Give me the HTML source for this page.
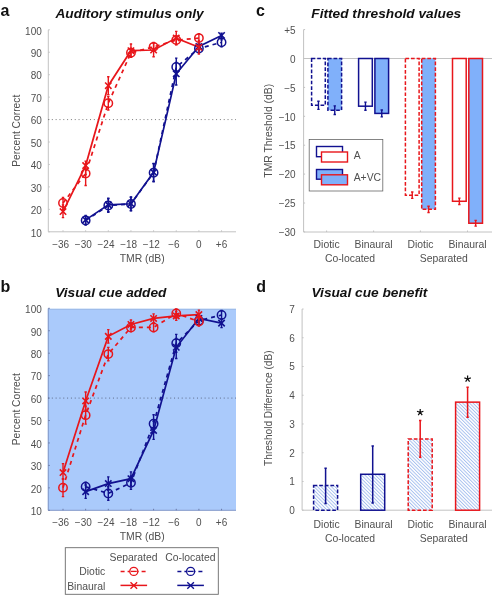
<!DOCTYPE html>
<html><head><meta charset="utf-8"><style>
html,body{margin:0;padding:0;background:#fff;width:492px;height:595px;overflow:hidden}
svg{display:block;font-family:"Liberation Sans",sans-serif;will-change:transform}
</style></head><body>
<svg width="492" height="595" viewBox="0 0 492 595" font-family="Liberation Sans, sans-serif">
<rect width="492" height="595" fill="#fff"/>
<text x="0.5" y="15.5" font-size="16" font-weight="bold" fill="#111">a</text>
<text x="129.6" y="18" text-anchor="middle" font-size="13.7" font-weight="bold" font-style="italic" fill="#111">Auditory stimulus only</text>
<text x="0.5" y="292" font-size="16" font-weight="bold" fill="#111">b</text>
<text x="110.8" y="296.5" text-anchor="middle" font-size="13.7" font-weight="bold" font-style="italic" fill="#111">Visual cue added</text>
<text x="256" y="16" font-size="16" font-weight="bold" fill="#111">c</text>
<text x="386.2" y="18" text-anchor="middle" font-size="13.7" font-weight="bold" font-style="italic" fill="#111">Fitted threshold values</text>
<text x="256.2" y="292" font-size="16" font-weight="bold" fill="#111">d</text>
<text x="369.4" y="296.5" text-anchor="middle" font-size="13.7" font-weight="bold" font-style="italic" fill="#111">Visual cue benefit</text>
<path d="M48.3 29.80V231.80H236" fill="none" stroke="#c2c2c2" stroke-width="1"/>
<path d="M48.3 231.80h1.5" stroke="#c2c2c2" stroke-width="1"/>
<text x="41.80" y="236.60" text-anchor="end" font-size="10" fill="#505050">10</text>
<path d="M48.3 209.35h1.5" stroke="#c2c2c2" stroke-width="1"/>
<text x="41.80" y="214.15" text-anchor="end" font-size="10" fill="#505050">20</text>
<path d="M48.3 186.91h1.5" stroke="#c2c2c2" stroke-width="1"/>
<text x="41.80" y="191.71" text-anchor="end" font-size="10" fill="#505050">30</text>
<path d="M48.3 164.46h1.5" stroke="#c2c2c2" stroke-width="1"/>
<text x="41.80" y="169.26" text-anchor="end" font-size="10" fill="#505050">40</text>
<path d="M48.3 142.02h1.5" stroke="#c2c2c2" stroke-width="1"/>
<text x="41.80" y="146.82" text-anchor="end" font-size="10" fill="#505050">50</text>
<path d="M48.3 119.58h1.5" stroke="#c2c2c2" stroke-width="1"/>
<text x="41.80" y="124.38" text-anchor="end" font-size="10" fill="#505050">60</text>
<path d="M48.3 97.13h1.5" stroke="#c2c2c2" stroke-width="1"/>
<text x="41.80" y="101.93" text-anchor="end" font-size="10" fill="#505050">70</text>
<path d="M48.3 74.69h1.5" stroke="#c2c2c2" stroke-width="1"/>
<text x="41.80" y="79.49" text-anchor="end" font-size="10" fill="#505050">80</text>
<path d="M48.3 52.24h1.5" stroke="#c2c2c2" stroke-width="1"/>
<text x="41.80" y="57.04" text-anchor="end" font-size="10" fill="#505050">90</text>
<path d="M48.3 29.80h1.5" stroke="#c2c2c2" stroke-width="1"/>
<text x="41.80" y="34.60" text-anchor="end" font-size="10" fill="#505050">100</text>
<path d="M63.00 231.80v-1.5" stroke="#c2c2c2" stroke-width="1"/>
<text x="60.70" y="247.80" text-anchor="middle" font-size="10" fill="#505050">−36</text>
<path d="M85.65 231.80v-1.5" stroke="#c2c2c2" stroke-width="1"/>
<text x="83.35" y="247.80" text-anchor="middle" font-size="10" fill="#505050">−30</text>
<path d="M108.30 231.80v-1.5" stroke="#c2c2c2" stroke-width="1"/>
<text x="106.00" y="247.80" text-anchor="middle" font-size="10" fill="#505050">−24</text>
<path d="M130.95 231.80v-1.5" stroke="#c2c2c2" stroke-width="1"/>
<text x="128.65" y="247.80" text-anchor="middle" font-size="10" fill="#505050">−18</text>
<path d="M153.60 231.80v-1.5" stroke="#c2c2c2" stroke-width="1"/>
<text x="151.30" y="247.80" text-anchor="middle" font-size="10" fill="#505050">−12</text>
<path d="M176.25 231.80v-1.5" stroke="#c2c2c2" stroke-width="1"/>
<text x="173.95" y="247.80" text-anchor="middle" font-size="10" fill="#505050">−6</text>
<path d="M198.90 231.80v-1.5" stroke="#c2c2c2" stroke-width="1"/>
<text x="198.90" y="247.80" text-anchor="middle" font-size="10" fill="#505050">0</text>
<path d="M221.55 231.80v-1.5" stroke="#c2c2c2" stroke-width="1"/>
<text x="221.55" y="247.80" text-anchor="middle" font-size="10" fill="#505050">+6</text>
<text x="142.20" y="261.60" text-anchor="middle" font-size="10.4" fill="#505050">TMR (dB)</text>
<path d="M48.0 119.58H236" stroke="#7a7a7a" stroke-width="1" stroke-dasharray="1 2.82"/>
<text transform="translate(20.2 130.70) rotate(-90)" text-anchor="middle" font-size="10.3" fill="#505050">Percent Correct</text>
<path d="M85.65 220.57 L108.30 205.54 L130.95 203.97 L153.60 172.77 L176.25 67.06 L198.90 48.43 L221.55 42.37" fill="none" stroke="#111190" stroke-width="1.7" stroke-dasharray="4 4"/>
<path d="M85.65 219.90 L108.30 204.86 L130.95 203.74 L153.60 172.32 L176.25 73.79 L198.90 46.41 L221.55 35.41" fill="none" stroke="#111190" stroke-width="1.7"/>
<path d="M63.00 203.07 L85.65 173.44 L108.30 103.19 L130.95 52.69 L153.60 46.86 L176.25 40.12 L198.90 38.10" fill="none" stroke="#e8161b" stroke-width="1.7" stroke-dasharray="4 4"/>
<path d="M63.00 211.60 L85.65 165.59 L108.30 85.69 L130.95 50.67 L153.60 50.00 L176.25 38.10 L198.90 47.31" fill="none" stroke="#e8161b" stroke-width="1.7"/>
<path d="M85.65 216.09V225.06M84.45 216.09h2.4M84.45 225.06h2.4" stroke="#111190" stroke-width="1.4" fill="none"/>
<circle cx="85.65" cy="220.57" r="4.2" fill="none" stroke="#111190" stroke-width="1.5"/>
<path d="M108.30 198.80V212.27M107.10 198.80h2.4M107.10 212.27h2.4" stroke="#111190" stroke-width="1.4" fill="none"/>
<circle cx="108.30" cy="205.54" r="4.2" fill="none" stroke="#111190" stroke-width="1.5"/>
<path d="M130.95 197.23V210.70M129.75 197.23h2.4M129.75 210.70h2.4" stroke="#111190" stroke-width="1.4" fill="none"/>
<circle cx="130.95" cy="203.97" r="4.2" fill="none" stroke="#111190" stroke-width="1.5"/>
<path d="M153.60 163.79V181.75M152.40 163.79h2.4M152.40 181.75h2.4" stroke="#111190" stroke-width="1.4" fill="none"/>
<circle cx="153.60" cy="172.77" r="4.2" fill="none" stroke="#111190" stroke-width="1.5"/>
<path d="M176.25 58.08V76.03M175.05 58.08h2.4M175.05 76.03h2.4" stroke="#111190" stroke-width="1.4" fill="none"/>
<circle cx="176.25" cy="67.06" r="4.2" fill="none" stroke="#111190" stroke-width="1.5"/>
<path d="M198.90 43.94V52.92M197.70 43.94h2.4M197.70 52.92h2.4" stroke="#111190" stroke-width="1.4" fill="none"/>
<circle cx="198.90" cy="48.43" r="4.2" fill="none" stroke="#111190" stroke-width="1.5"/>
<path d="M221.55 37.88V46.86M220.35 37.88h2.4M220.35 46.86h2.4" stroke="#111190" stroke-width="1.4" fill="none"/>
<circle cx="221.55" cy="42.37" r="4.2" fill="none" stroke="#111190" stroke-width="1.5"/>
<path d="M85.65 215.41V224.39M84.45 215.41h2.4M84.45 224.39h2.4" stroke="#111190" stroke-width="1.4" fill="none"/>
<path d="M82.45 216.70L88.85 223.10M82.45 223.10L88.85 216.70" stroke="#111190" stroke-width="1.6"/>
<path d="M108.30 198.13V211.60M107.10 198.13h2.4M107.10 211.60h2.4" stroke="#111190" stroke-width="1.4" fill="none"/>
<path d="M105.10 201.66L111.50 208.06M105.10 208.06L111.50 201.66" stroke="#111190" stroke-width="1.6"/>
<path d="M130.95 197.01V210.47M129.75 197.01h2.4M129.75 210.47h2.4" stroke="#111190" stroke-width="1.4" fill="none"/>
<path d="M127.75 200.54L134.15 206.94M127.75 206.94L134.15 200.54" stroke="#111190" stroke-width="1.6"/>
<path d="M153.60 163.34V181.30M152.40 163.34h2.4M152.40 181.30h2.4" stroke="#111190" stroke-width="1.4" fill="none"/>
<path d="M150.40 169.12L156.80 175.52M150.40 175.52L156.80 169.12" stroke="#111190" stroke-width="1.6"/>
<path d="M176.25 62.57V85.01M175.05 62.57h2.4M175.05 85.01h2.4" stroke="#111190" stroke-width="1.4" fill="none"/>
<path d="M173.05 70.59L179.45 76.99M173.05 76.99L179.45 70.59" stroke="#111190" stroke-width="1.6"/>
<path d="M198.90 41.92V50.90M197.70 41.92h2.4M197.70 50.90h2.4" stroke="#111190" stroke-width="1.4" fill="none"/>
<path d="M195.70 43.21L202.10 49.61M195.70 49.61L202.10 43.21" stroke="#111190" stroke-width="1.6"/>
<path d="M221.55 33.17V39.90M220.35 33.17h2.4M220.35 39.90h2.4" stroke="#111190" stroke-width="1.4" fill="none"/>
<path d="M218.35 32.21L224.75 38.61M218.35 38.61L224.75 32.21" stroke="#111190" stroke-width="1.6"/>
<path d="M63.00 197.46V209.80M61.80 197.46h2.4M61.80 209.80h2.4" stroke="#e8161b" stroke-width="1.4" fill="none"/>
<circle cx="63.00" cy="203.07" r="4.2" fill="none" stroke="#e8161b" stroke-width="1.5"/>
<path d="M85.65 164.46V185.56M84.45 164.46h2.4M84.45 185.56h2.4" stroke="#e8161b" stroke-width="1.4" fill="none"/>
<circle cx="85.65" cy="173.44" r="4.2" fill="none" stroke="#e8161b" stroke-width="1.5"/>
<path d="M108.30 96.46V109.93M107.10 96.46h2.4M107.10 109.93h2.4" stroke="#e8161b" stroke-width="1.4" fill="none"/>
<circle cx="108.30" cy="103.19" r="4.2" fill="none" stroke="#e8161b" stroke-width="1.5"/>
<path d="M130.95 48.20V57.18M129.75 48.20h2.4M129.75 57.18h2.4" stroke="#e8161b" stroke-width="1.4" fill="none"/>
<circle cx="130.95" cy="52.69" r="4.2" fill="none" stroke="#e8161b" stroke-width="1.5"/>
<path d="M153.60 42.37V51.35M152.40 42.37h2.4M152.40 51.35h2.4" stroke="#e8161b" stroke-width="1.4" fill="none"/>
<circle cx="153.60" cy="46.86" r="4.2" fill="none" stroke="#e8161b" stroke-width="1.5"/>
<path d="M176.25 35.64V44.61M175.05 35.64h2.4M175.05 44.61h2.4" stroke="#e8161b" stroke-width="1.4" fill="none"/>
<circle cx="176.25" cy="40.12" r="4.2" fill="none" stroke="#e8161b" stroke-width="1.5"/>
<path d="M198.90 33.62V42.59M197.70 33.62h2.4M197.70 42.59h2.4" stroke="#e8161b" stroke-width="1.4" fill="none"/>
<circle cx="198.90" cy="38.10" r="4.2" fill="none" stroke="#e8161b" stroke-width="1.5"/>
<path d="M63.00 204.86V217.66M61.80 204.86h2.4M61.80 217.66h2.4" stroke="#e8161b" stroke-width="1.4" fill="none"/>
<path d="M59.80 208.40L66.20 214.80M59.80 214.80L66.20 208.40" stroke="#e8161b" stroke-width="1.6"/>
<path d="M85.65 161.10V174.56M84.45 161.10h2.4M84.45 174.56h2.4" stroke="#e8161b" stroke-width="1.4" fill="none"/>
<path d="M82.45 162.39L88.85 168.79M82.45 168.79L88.85 162.39" stroke="#e8161b" stroke-width="1.6"/>
<path d="M108.30 76.71V94.66M107.10 76.71h2.4M107.10 94.66h2.4" stroke="#e8161b" stroke-width="1.4" fill="none"/>
<path d="M105.10 82.49L111.50 88.89M105.10 88.89L111.50 82.49" stroke="#e8161b" stroke-width="1.6"/>
<path d="M130.95 43.94V57.41M129.75 43.94h2.4M129.75 57.41h2.4" stroke="#e8161b" stroke-width="1.4" fill="none"/>
<path d="M127.75 47.47L134.15 53.87M127.75 53.87L134.15 47.47" stroke="#e8161b" stroke-width="1.6"/>
<path d="M153.60 43.27V56.73M152.40 43.27h2.4M152.40 56.73h2.4" stroke="#e8161b" stroke-width="1.4" fill="none"/>
<path d="M150.40 46.80L156.80 53.20M150.40 53.20L156.80 46.80" stroke="#e8161b" stroke-width="1.6"/>
<path d="M176.25 31.37V44.84M175.05 31.37h2.4M175.05 44.84h2.4" stroke="#e8161b" stroke-width="1.4" fill="none"/>
<path d="M173.05 34.90L179.45 41.30M173.05 41.30L179.45 34.90" stroke="#e8161b" stroke-width="1.6"/>
<path d="M198.90 40.57V54.04M197.70 40.57h2.4M197.70 54.04h2.4" stroke="#e8161b" stroke-width="1.4" fill="none"/>
<path d="M195.70 44.11L202.10 50.51M195.70 50.51L202.10 44.11" stroke="#e8161b" stroke-width="1.6"/>
<rect x="47.8" y="308.80" width="188.2" height="201.50" fill="#aacafb"/>
<path d="M48.3 309.30H236" stroke="#9cb8e6" stroke-width="1"/>
<path d="M48.3 308.30V510.30H236" fill="none" stroke="#8298c8" stroke-width="1"/>
<path d="M48.3 510.30h1.5" stroke="#6a7aa8" stroke-width="1"/>
<text x="41.80" y="515.10" text-anchor="end" font-size="10" fill="#505050">10</text>
<path d="M48.3 487.85h1.5" stroke="#6a7aa8" stroke-width="1"/>
<text x="41.80" y="492.65" text-anchor="end" font-size="10" fill="#505050">20</text>
<path d="M48.3 465.41h1.5" stroke="#6a7aa8" stroke-width="1"/>
<text x="41.80" y="470.21" text-anchor="end" font-size="10" fill="#505050">30</text>
<path d="M48.3 442.96h1.5" stroke="#6a7aa8" stroke-width="1"/>
<text x="41.80" y="447.76" text-anchor="end" font-size="10" fill="#505050">40</text>
<path d="M48.3 420.52h1.5" stroke="#6a7aa8" stroke-width="1"/>
<text x="41.80" y="425.32" text-anchor="end" font-size="10" fill="#505050">50</text>
<path d="M48.3 398.08h1.5" stroke="#6a7aa8" stroke-width="1"/>
<text x="41.80" y="402.88" text-anchor="end" font-size="10" fill="#505050">60</text>
<path d="M48.3 375.63h1.5" stroke="#6a7aa8" stroke-width="1"/>
<text x="41.80" y="380.43" text-anchor="end" font-size="10" fill="#505050">70</text>
<path d="M48.3 353.19h1.5" stroke="#6a7aa8" stroke-width="1"/>
<text x="41.80" y="357.99" text-anchor="end" font-size="10" fill="#505050">80</text>
<path d="M48.3 330.74h1.5" stroke="#6a7aa8" stroke-width="1"/>
<text x="41.80" y="335.54" text-anchor="end" font-size="10" fill="#505050">90</text>
<path d="M48.3 308.30h1.5" stroke="#6a7aa8" stroke-width="1"/>
<text x="41.80" y="313.10" text-anchor="end" font-size="10" fill="#505050">100</text>
<path d="M63.00 510.30v-1.5" stroke="#6a7aa8" stroke-width="1"/>
<text x="60.70" y="526.30" text-anchor="middle" font-size="10" fill="#505050">−36</text>
<path d="M85.65 510.30v-1.5" stroke="#6a7aa8" stroke-width="1"/>
<text x="83.35" y="526.30" text-anchor="middle" font-size="10" fill="#505050">−30</text>
<path d="M108.30 510.30v-1.5" stroke="#6a7aa8" stroke-width="1"/>
<text x="106.00" y="526.30" text-anchor="middle" font-size="10" fill="#505050">−24</text>
<path d="M130.95 510.30v-1.5" stroke="#6a7aa8" stroke-width="1"/>
<text x="128.65" y="526.30" text-anchor="middle" font-size="10" fill="#505050">−18</text>
<path d="M153.60 510.30v-1.5" stroke="#6a7aa8" stroke-width="1"/>
<text x="151.30" y="526.30" text-anchor="middle" font-size="10" fill="#505050">−12</text>
<path d="M176.25 510.30v-1.5" stroke="#6a7aa8" stroke-width="1"/>
<text x="173.95" y="526.30" text-anchor="middle" font-size="10" fill="#505050">−6</text>
<path d="M198.90 510.30v-1.5" stroke="#6a7aa8" stroke-width="1"/>
<text x="198.90" y="526.30" text-anchor="middle" font-size="10" fill="#505050">0</text>
<path d="M221.55 510.30v-1.5" stroke="#6a7aa8" stroke-width="1"/>
<text x="221.55" y="526.30" text-anchor="middle" font-size="10" fill="#505050">+6</text>
<text x="142.20" y="540.10" text-anchor="middle" font-size="10.4" fill="#505050">TMR (dB)</text>
<path d="M48.0 398.08H236" stroke="#5c6a88" stroke-width="1" stroke-dasharray="1 2.82"/>
<text transform="translate(20.2 409.20) rotate(-90)" text-anchor="middle" font-size="10.3" fill="#505050">Percent Correct</text>
<path d="M85.65 486.73 L108.30 493.46 L130.95 482.69 L153.60 423.66 L176.25 343.31 L198.90 320.64 L221.55 315.03" fill="none" stroke="#111190" stroke-width="1.7" stroke-dasharray="4 4"/>
<path d="M85.65 491.67 L108.30 483.59 L130.95 478.65 L153.60 430.40 L176.25 347.35 L198.90 318.40 L221.55 323.11" fill="none" stroke="#111190" stroke-width="1.7"/>
<path d="M63.00 487.63 L85.65 415.13 L108.30 354.09 L130.95 327.38 L153.60 327.38 L176.25 313.46 L198.90 321.54" fill="none" stroke="#e8161b" stroke-width="1.7" stroke-dasharray="4 4"/>
<path d="M63.00 472.59 L85.65 400.99 L108.30 336.36 L130.95 324.46 L153.60 318.40 L176.25 315.93 L198.90 314.58" fill="none" stroke="#e8161b" stroke-width="1.7"/>
<path d="M85.65 482.24V491.22M84.45 482.24h2.4M84.45 491.22h2.4" stroke="#111190" stroke-width="1.4" fill="none"/>
<circle cx="85.65" cy="486.73" r="4.2" fill="none" stroke="#111190" stroke-width="1.5"/>
<path d="M108.30 486.73V500.20M107.10 486.73h2.4M107.10 500.20h2.4" stroke="#111190" stroke-width="1.4" fill="none"/>
<circle cx="108.30" cy="493.46" r="4.2" fill="none" stroke="#111190" stroke-width="1.5"/>
<path d="M130.95 475.96V489.42M129.75 475.96h2.4M129.75 489.42h2.4" stroke="#111190" stroke-width="1.4" fill="none"/>
<circle cx="130.95" cy="482.69" r="4.2" fill="none" stroke="#111190" stroke-width="1.5"/>
<path d="M153.60 414.68V432.64M152.40 414.68h2.4M152.40 432.64h2.4" stroke="#111190" stroke-width="1.4" fill="none"/>
<circle cx="153.60" cy="423.66" r="4.2" fill="none" stroke="#111190" stroke-width="1.5"/>
<path d="M176.25 334.34V352.29M175.05 334.34h2.4M175.05 352.29h2.4" stroke="#111190" stroke-width="1.4" fill="none"/>
<circle cx="176.25" cy="343.31" r="4.2" fill="none" stroke="#111190" stroke-width="1.5"/>
<path d="M198.90 316.16V325.13M197.70 316.16h2.4M197.70 325.13h2.4" stroke="#111190" stroke-width="1.4" fill="none"/>
<circle cx="198.90" cy="320.64" r="4.2" fill="none" stroke="#111190" stroke-width="1.5"/>
<path d="M221.55 310.54V319.52M220.35 310.54h2.4M220.35 319.52h2.4" stroke="#111190" stroke-width="1.4" fill="none"/>
<circle cx="221.55" cy="315.03" r="4.2" fill="none" stroke="#111190" stroke-width="1.5"/>
<path d="M85.65 484.93V498.40M84.45 484.93h2.4M84.45 498.40h2.4" stroke="#111190" stroke-width="1.4" fill="none"/>
<path d="M82.45 488.47L88.85 494.87M82.45 494.87L88.85 488.47" stroke="#111190" stroke-width="1.6"/>
<path d="M108.30 476.85V490.32M107.10 476.85h2.4M107.10 490.32h2.4" stroke="#111190" stroke-width="1.4" fill="none"/>
<path d="M105.10 480.39L111.50 486.79M105.10 486.79L111.50 480.39" stroke="#111190" stroke-width="1.6"/>
<path d="M130.95 471.92V485.38M129.75 471.92h2.4M129.75 485.38h2.4" stroke="#111190" stroke-width="1.4" fill="none"/>
<path d="M127.75 475.45L134.15 481.85M127.75 481.85L134.15 475.45" stroke="#111190" stroke-width="1.6"/>
<path d="M153.60 421.42V439.37M152.40 421.42h2.4M152.40 439.37h2.4" stroke="#111190" stroke-width="1.4" fill="none"/>
<path d="M150.40 427.20L156.80 433.60M150.40 433.60L156.80 427.20" stroke="#111190" stroke-width="1.6"/>
<path d="M176.25 338.37V358.57M175.05 338.37h2.4M175.05 358.57h2.4" stroke="#111190" stroke-width="1.4" fill="none"/>
<path d="M173.05 344.15L179.45 350.55M173.05 350.55L179.45 344.15" stroke="#111190" stroke-width="1.6"/>
<path d="M198.90 313.91V322.89M197.70 313.91h2.4M197.70 322.89h2.4" stroke="#111190" stroke-width="1.4" fill="none"/>
<path d="M195.70 315.20L202.10 321.60M195.70 321.60L202.10 315.20" stroke="#111190" stroke-width="1.6"/>
<path d="M221.55 318.62V327.60M220.35 318.62h2.4M220.35 327.60h2.4" stroke="#111190" stroke-width="1.4" fill="none"/>
<path d="M218.35 319.91L224.75 326.31M218.35 326.31L224.75 319.91" stroke="#111190" stroke-width="1.6"/>
<path d="M63.00 478.65V496.61M61.80 478.65h2.4M61.80 496.61h2.4" stroke="#e8161b" stroke-width="1.4" fill="none"/>
<circle cx="63.00" cy="487.63" r="4.2" fill="none" stroke="#e8161b" stroke-width="1.5"/>
<path d="M85.65 406.16V424.11M84.45 406.16h2.4M84.45 424.11h2.4" stroke="#e8161b" stroke-width="1.4" fill="none"/>
<circle cx="85.65" cy="415.13" r="4.2" fill="none" stroke="#e8161b" stroke-width="1.5"/>
<path d="M108.30 347.35V360.82M107.10 347.35h2.4M107.10 360.82h2.4" stroke="#e8161b" stroke-width="1.4" fill="none"/>
<circle cx="108.30" cy="354.09" r="4.2" fill="none" stroke="#e8161b" stroke-width="1.5"/>
<path d="M130.95 322.89V331.87M129.75 322.89h2.4M129.75 331.87h2.4" stroke="#e8161b" stroke-width="1.4" fill="none"/>
<circle cx="130.95" cy="327.38" r="4.2" fill="none" stroke="#e8161b" stroke-width="1.5"/>
<path d="M153.60 322.89V331.87M152.40 322.89h2.4M152.40 331.87h2.4" stroke="#e8161b" stroke-width="1.4" fill="none"/>
<circle cx="153.60" cy="327.38" r="4.2" fill="none" stroke="#e8161b" stroke-width="1.5"/>
<path d="M176.25 308.97V317.95M175.05 308.97h2.4M175.05 317.95h2.4" stroke="#e8161b" stroke-width="1.4" fill="none"/>
<circle cx="176.25" cy="313.46" r="4.2" fill="none" stroke="#e8161b" stroke-width="1.5"/>
<path d="M198.90 317.05V326.03M197.70 317.05h2.4M197.70 326.03h2.4" stroke="#e8161b" stroke-width="1.4" fill="none"/>
<circle cx="198.90" cy="321.54" r="4.2" fill="none" stroke="#e8161b" stroke-width="1.5"/>
<path d="M63.00 463.61V479.32M61.80 463.61h2.4M61.80 479.32h2.4" stroke="#e8161b" stroke-width="1.4" fill="none"/>
<path d="M59.80 469.39L66.20 475.79M59.80 475.79L66.20 469.39" stroke="#e8161b" stroke-width="1.6"/>
<path d="M85.65 392.02V409.97M84.45 392.02h2.4M84.45 409.97h2.4" stroke="#e8161b" stroke-width="1.4" fill="none"/>
<path d="M82.45 397.79L88.85 404.19M82.45 404.19L88.85 397.79" stroke="#e8161b" stroke-width="1.6"/>
<path d="M108.30 329.62V343.09M107.10 329.62h2.4M107.10 343.09h2.4" stroke="#e8161b" stroke-width="1.4" fill="none"/>
<path d="M105.10 333.16L111.50 339.56M105.10 339.56L111.50 333.16" stroke="#e8161b" stroke-width="1.6"/>
<path d="M130.95 319.97V328.95M129.75 319.97h2.4M129.75 328.95h2.4" stroke="#e8161b" stroke-width="1.4" fill="none"/>
<path d="M127.75 321.26L134.15 327.66M127.75 327.66L134.15 321.26" stroke="#e8161b" stroke-width="1.6"/>
<path d="M153.60 313.91V322.89M152.40 313.91h2.4M152.40 322.89h2.4" stroke="#e8161b" stroke-width="1.4" fill="none"/>
<path d="M150.40 315.20L156.80 321.60M150.40 321.60L156.80 315.20" stroke="#e8161b" stroke-width="1.6"/>
<path d="M176.25 311.44V320.42M175.05 311.44h2.4M175.05 320.42h2.4" stroke="#e8161b" stroke-width="1.4" fill="none"/>
<path d="M173.05 312.73L179.45 319.13M173.05 319.13L179.45 312.73" stroke="#e8161b" stroke-width="1.6"/>
<path d="M198.90 310.10V319.07M197.70 310.10h2.4M197.70 319.07h2.4" stroke="#e8161b" stroke-width="1.4" fill="none"/>
<path d="M195.70 311.38L202.10 317.78M195.70 317.78L202.10 311.38" stroke="#e8161b" stroke-width="1.6"/>
<path d="M303.6 29.60V232H492" fill="none" stroke="#c2c2c2" stroke-width="1"/>
<path d="M303.6 58.50H492" stroke="#c2c2c2" stroke-width="1"/>
<path d="M303.6 29.60h1.5" stroke="#c2c2c2" stroke-width="1"/>
<text x="295.60" y="33.80" text-anchor="end" font-size="10" fill="#505050">+5</text>
<path d="M303.6 58.50h1.5" stroke="#c2c2c2" stroke-width="1"/>
<text x="295.60" y="62.70" text-anchor="end" font-size="10" fill="#505050">0</text>
<path d="M303.6 87.40h1.5" stroke="#c2c2c2" stroke-width="1"/>
<text x="295.60" y="91.60" text-anchor="end" font-size="10" fill="#505050">−5</text>
<path d="M303.6 116.30h1.5" stroke="#c2c2c2" stroke-width="1"/>
<text x="295.60" y="120.50" text-anchor="end" font-size="10" fill="#505050">−10</text>
<path d="M303.6 145.20h1.5" stroke="#c2c2c2" stroke-width="1"/>
<text x="295.60" y="149.40" text-anchor="end" font-size="10" fill="#505050">−15</text>
<path d="M303.6 174.10h1.5" stroke="#c2c2c2" stroke-width="1"/>
<text x="295.60" y="178.30" text-anchor="end" font-size="10" fill="#505050">−20</text>
<path d="M303.6 203.00h1.5" stroke="#c2c2c2" stroke-width="1"/>
<text x="295.60" y="207.20" text-anchor="end" font-size="10" fill="#505050">−25</text>
<path d="M303.6 231.90h1.5" stroke="#c2c2c2" stroke-width="1"/>
<text x="295.60" y="236.10" text-anchor="end" font-size="10" fill="#505050">−30</text>
<text transform="translate(272 130.75) rotate(-90)" text-anchor="middle" font-size="10.4" fill="#505050">TMR Threshold (dB)</text>
<path d="M326.60 232v-1.5" stroke="#c2c2c2" stroke-width="1"/>
<path d="M373.60 232v-1.5" stroke="#c2c2c2" stroke-width="1"/>
<path d="M420.40 232v-1.5" stroke="#c2c2c2" stroke-width="1"/>
<path d="M467.50 232v-1.5" stroke="#c2c2c2" stroke-width="1"/>
<text x="326.60" y="248.30" text-anchor="middle" font-size="10.4" fill="#505050">Diotic</text>
<text x="373.60" y="248.30" text-anchor="middle" font-size="10.4" fill="#505050">Binaural</text>
<text x="420.40" y="248.30" text-anchor="middle" font-size="10.4" fill="#505050">Diotic</text>
<text x="467.50" y="248.30" text-anchor="middle" font-size="10.4" fill="#505050">Binaural</text>
<text x="350.00" y="262.10" text-anchor="middle" font-size="10.4" fill="#505050">Co-located</text>
<text x="443.80" y="262.10" text-anchor="middle" font-size="10.4" fill="#505050">Separated</text>
<rect x="311.60" y="58.50" width="13.70" height="46.82" fill="#fff" stroke="#111190" stroke-width="1.5" stroke-dasharray="3.7 1.9"/>
<path d="M318.45 101.27V109.36M317.25 101.27h2.4M317.25 109.36h2.4" stroke="#111190" stroke-width="1.4" fill="none"/>
<rect x="327.90" y="58.50" width="13.70" height="51.73" fill="#80b0fa" stroke="#111190" stroke-width="1.5" stroke-dasharray="3.7 1.9"/>
<path d="M334.75 105.90V114.57M333.55 105.90h2.4M333.55 114.57h2.4" stroke="#111190" stroke-width="1.4" fill="none"/>
<rect x="358.60" y="58.50" width="13.70" height="47.69" fill="#fff" stroke="#111190" stroke-width="1.5"/>
<path d="M365.45 102.14V110.23M364.25 102.14h2.4M364.25 110.23h2.4" stroke="#111190" stroke-width="1.4" fill="none"/>
<rect x="374.90" y="58.50" width="13.70" height="54.91" fill="#80b0fa" stroke="#111190" stroke-width="1.5"/>
<path d="M381.75 109.94V116.88M380.55 109.94h2.4M380.55 116.88h2.4" stroke="#111190" stroke-width="1.4" fill="none"/>
<rect x="405.40" y="58.50" width="13.70" height="136.70" fill="#fff" stroke="#e8161b" stroke-width="1.5" stroke-dasharray="3.7 1.9"/>
<path d="M412.25 192.02V198.38M411.05 192.02h2.4M411.05 198.38h2.4" stroke="#e8161b" stroke-width="1.4" fill="none"/>
<rect x="421.70" y="58.50" width="13.70" height="150.86" fill="#80b0fa" stroke="#e8161b" stroke-width="1.5" stroke-dasharray="3.7 1.9"/>
<path d="M428.55 206.18V212.54M427.35 206.18h2.4M427.35 212.54h2.4" stroke="#e8161b" stroke-width="1.4" fill="none"/>
<rect x="452.50" y="58.50" width="13.70" height="142.77" fill="#fff" stroke="#e8161b" stroke-width="1.5"/>
<path d="M459.35 198.09V204.44M458.15 198.09h2.4M458.15 204.44h2.4" stroke="#e8161b" stroke-width="1.4" fill="none"/>
<rect x="468.80" y="58.50" width="13.70" height="164.73" fill="#80b0fa" stroke="#e8161b" stroke-width="1.5"/>
<path d="M475.65 220.34V226.12M474.45 220.34h2.4M474.45 226.12h2.4" stroke="#e8161b" stroke-width="1.4" fill="none"/>
<rect x="309.2" y="139.4" width="73.6" height="51.6" fill="#fff" stroke="#666" stroke-width="0.8"/>
<rect x="316.5" y="146.5" width="26" height="10.2" fill="#fff" stroke="#111190" stroke-width="1.4"/>
<rect x="321.5" y="152" width="26" height="10" fill="#fff" stroke="#e8161b" stroke-width="1.4"/>
<rect x="316.5" y="169.5" width="26" height="9.7" fill="#80b0fa" stroke="#111190" stroke-width="1.4"/>
<rect x="321.5" y="174.8" width="26" height="10" fill="#80b0fa" stroke="#e8161b" stroke-width="1.4"/>
<text x="353.70" y="158.60" text-anchor="start" font-size="10.4" fill="#505050">A</text>
<text x="353.70" y="181.20" text-anchor="start" font-size="10.4" fill="#505050">A+VC</text>
<defs><pattern id="h" patternUnits="userSpaceOnUse" width="2.45" height="2.45" patternTransform="rotate(-45)"><rect width="2.45" height="2.45" fill="#fff"/><path d="M0.5 0V2.45" stroke="#9cb9ee" stroke-width="0.85"/></pattern></defs>
<path d="M302.1 309.02V510.20H492" fill="none" stroke="#c2c2c2" stroke-width="1"/>
<path d="M302.1 510.20h1.5" stroke="#c2c2c2" stroke-width="1"/>
<text x="294.80" y="514.00" text-anchor="end" font-size="10" fill="#505050">0</text>
<path d="M302.1 481.46h1.5" stroke="#c2c2c2" stroke-width="1"/>
<text x="294.80" y="485.26" text-anchor="end" font-size="10" fill="#505050">1</text>
<path d="M302.1 452.72h1.5" stroke="#c2c2c2" stroke-width="1"/>
<text x="294.80" y="456.52" text-anchor="end" font-size="10" fill="#505050">2</text>
<path d="M302.1 423.98h1.5" stroke="#c2c2c2" stroke-width="1"/>
<text x="294.80" y="427.78" text-anchor="end" font-size="10" fill="#505050">3</text>
<path d="M302.1 395.24h1.5" stroke="#c2c2c2" stroke-width="1"/>
<text x="294.80" y="399.04" text-anchor="end" font-size="10" fill="#505050">4</text>
<path d="M302.1 366.50h1.5" stroke="#c2c2c2" stroke-width="1"/>
<text x="294.80" y="370.30" text-anchor="end" font-size="10" fill="#505050">5</text>
<path d="M302.1 337.76h1.5" stroke="#c2c2c2" stroke-width="1"/>
<text x="294.80" y="341.56" text-anchor="end" font-size="10" fill="#505050">6</text>
<path d="M302.1 309.02h1.5" stroke="#c2c2c2" stroke-width="1"/>
<text x="294.80" y="312.82" text-anchor="end" font-size="10" fill="#505050">7</text>
<text transform="translate(272.3 408.2) rotate(-90)" text-anchor="middle" font-size="10.1" fill="#505050">Threshold Difference (dB)</text>
<path d="M326.60 510.20v-1.5" stroke="#c2c2c2" stroke-width="1"/>
<path d="M373.60 510.20v-1.5" stroke="#c2c2c2" stroke-width="1"/>
<path d="M420.40 510.20v-1.5" stroke="#c2c2c2" stroke-width="1"/>
<path d="M467.50 510.20v-1.5" stroke="#c2c2c2" stroke-width="1"/>
<text x="326.60" y="527.70" text-anchor="middle" font-size="10.4" fill="#505050">Diotic</text>
<text x="373.60" y="527.70" text-anchor="middle" font-size="10.4" fill="#505050">Binaural</text>
<text x="420.40" y="527.70" text-anchor="middle" font-size="10.4" fill="#505050">Diotic</text>
<text x="467.50" y="527.70" text-anchor="middle" font-size="10.4" fill="#505050">Binaural</text>
<text x="350.00" y="541.80" text-anchor="middle" font-size="10.4" fill="#505050">Co-located</text>
<text x="443.80" y="541.80" text-anchor="middle" font-size="10.4" fill="#505050">Separated</text>
<rect x="313.60" y="485.48" width="24" height="24.72" fill="url(#h)" stroke="#111190" stroke-width="1.5" stroke-dasharray="3.7 1.9"/>
<path d="M325.60 468.24V503.59M324.40 468.24h2.4M324.40 503.59h2.4" stroke="#111190" stroke-width="1.5" fill="none"/>
<rect x="360.70" y="474.27" width="24" height="35.93" fill="url(#h)" stroke="#111190" stroke-width="1.5"/>
<path d="M372.70 446.11V503.01M371.50 446.11h2.4M371.50 503.01h2.4" stroke="#111190" stroke-width="1.5" fill="none"/>
<rect x="408.20" y="438.92" width="24" height="71.28" fill="url(#h)" stroke="#e8161b" stroke-width="1.5" stroke-dasharray="3.7 1.9"/>
<path d="M420.20 420.53V457.32M419.00 420.53h2.4M419.00 457.32h2.4" stroke="#e8161b" stroke-width="1.5" fill="none"/>
<path d="M420.20 412.33l0.00 -3.40M420.20 412.33l3.23 -1.05M420.20 412.33l2.00 2.75M420.20 412.33l-2.00 2.75M420.20 412.33l-3.23 -1.05" stroke="#111" stroke-width="1.25" stroke-linecap="butt"/>
<rect x="455.60" y="402.14" width="24" height="108.06" fill="url(#h)" stroke="#e8161b" stroke-width="1.5"/>
<path d="M467.60 387.19V417.37M466.40 387.19h2.4M466.40 417.37h2.4" stroke="#e8161b" stroke-width="1.5" fill="none"/>
<path d="M467.60 378.99l0.00 -3.40M467.60 378.99l3.23 -1.05M467.60 378.99l2.00 2.75M467.60 378.99l-2.00 2.75M467.60 378.99l-3.23 -1.05" stroke="#111" stroke-width="1.25" stroke-linecap="butt"/>
<rect x="65.3" y="547.7" width="153" height="46.6" fill="#fff" stroke="#6a6a6a" stroke-width="0.9"/>
<text x="133.50" y="560.60" text-anchor="middle" font-size="10.4" fill="#505050">Separated</text>
<text x="190.40" y="560.60" text-anchor="middle" font-size="10.4" fill="#505050">Co-located</text>
<text x="105.30" y="575.40" text-anchor="end" font-size="10.4" fill="#505050">Diotic</text>
<text x="105.30" y="589.70" text-anchor="end" font-size="10.4" fill="#505050">Binaural</text>
<path d="M120.60 571.4H147.00" stroke="#e8161b" stroke-width="1.5" stroke-dasharray="4 3"/>
<circle cx="133.80" cy="571.4" r="4" fill="#fff" stroke="#e8161b" stroke-width="1.3"/>
<path d="M130.80 571.4h6" stroke="#e8161b" stroke-width="1.3"/>
<path d="M120.50 585.4H147.10" stroke="#e8161b" stroke-width="1.5"/>
<path d="M130.50 582.20L137.10 588.80M130.50 588.80L137.10 582.20" stroke="#e8161b" stroke-width="1.4"/>
<path d="M177.40 571.4H203.80" stroke="#111190" stroke-width="1.5" stroke-dasharray="4 3"/>
<circle cx="190.60" cy="571.4" r="4" fill="#fff" stroke="#111190" stroke-width="1.3"/>
<path d="M187.60 571.4h6" stroke="#111190" stroke-width="1.3"/>
<path d="M177.30 585.4H203.90" stroke="#111190" stroke-width="1.5"/>
<path d="M187.30 582.20L193.90 588.80M187.30 588.80L193.90 582.20" stroke="#111190" stroke-width="1.4"/>
</svg>
</body></html>
